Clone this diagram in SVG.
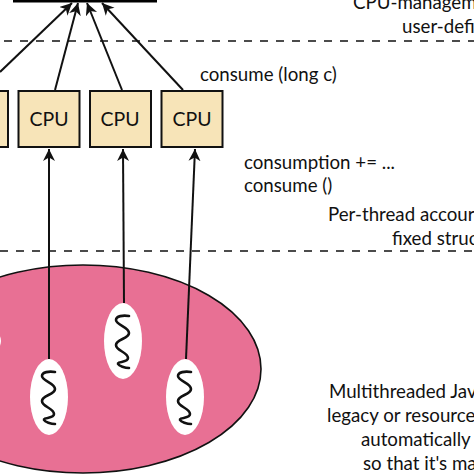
<svg xmlns="http://www.w3.org/2000/svg" width="474" height="474" viewBox="0 0 474 474">
<style>
text{font-family:"Lato","Liberation Sans",sans-serif;font-size:18.700px;fill:#111}
.cpu{fill:#f7e4b8;stroke:#111;stroke-width:2}
.dash{stroke:#111;stroke-width:1.6;stroke-dasharray:8 8;fill:none}
.con{stroke:#111;stroke-width:2;fill:none;marker-end:url(#a)}
.th{fill:#fff}
.sq{fill:none;stroke:#111;stroke-width:2.6;stroke-linecap:round}
.cl{font-size:19.500px}
</style>
<defs>
<marker id="a" markerUnits="userSpaceOnUse" markerWidth="14" markerHeight="14" refX="12" refY="6" orient="auto"><path d="M0 0L12 6L0 12L3.500 6Z" fill="#111"/></marker>
<path id="w" class="sq" d="M6 -25C0 -26 -7 -25 -7 -21C-7 -16 6 -14 6 -8C6 -2 -7 -2 -7 4C-7 10 5 11 5 17C5 22 -6 20 -5 23C-4 25 2 27 6 27"/>
</defs>
<rect width="474" height="474" fill="#fff"/>
<g id="bar"><rect x="13" y="0" width="144" height="2.500" fill="#000"/></g>
<line class="dash" x1="4" y1="41" x2="474" y2="41"/>
<line class="dash" x1="0" y1="251" x2="474" y2="251"/>
<g id="process"><ellipse cx="83" cy="369" rx="178" ry="104" fill="#e87094" stroke="#111" stroke-width="1.600"/></g>
<g id="thread-0"><ellipse class="th" cx="-8" cy="341" rx="9" ry="10"/></g>
<g id="thread-1"><ellipse class="th" cx="49" cy="397" rx="19" ry="38"/><use href="#w" x="49" y="397"/></g>
<g id="thread-2"><ellipse class="th" cx="123" cy="341" rx="19" ry="38"/><use href="#w" x="123" y="341"/></g>
<g id="thread-3"><ellipse class="th" cx="185" cy="397" rx="19" ry="38"/><use href="#w" x="185" y="397"/></g>
<g id="connectors">
<line class="con" x1="0" y1="72" x2="72" y2="3"/>
<line class="con" x1="55" y1="90" x2="78" y2="3"/>
<line class="con" x1="122" y1="90" x2="87" y2="3"/>
<line class="con" x1="183" y1="90" x2="102" y2="3"/>
<line class="con" x1="49" y1="359" x2="49" y2="149"/>
<line class="con" x1="124" y1="303" x2="123" y2="149"/>
<line class="con" x1="186" y1="359" x2="195" y2="149"/>
</g>
<g id="cpu-0"><rect class="cpu" x="-40" y="91" width="48" height="56"/></g>
<g id="cpu-1"><rect class="cpu" x="18.500" y="91" width="61" height="56"/><text class="cl" x="49" y="126" text-anchor="middle">CPU</text></g>
<g id="cpu-2"><rect class="cpu" x="90" y="91" width="61" height="56"/><text class="cl" x="120" y="126" text-anchor="middle">CPU</text></g>
<g id="cpu-3"><rect class="cpu" x="161.500" y="91" width="61" height="56"/><text class="cl" x="192" y="126" text-anchor="middle">CPU</text></g>
<g id="labels">
<text x="353" y="9">CPU-managem</text>
<text x="402" y="33">user-defi</text>
<text x="200" y="81">consume (long c)</text>
<text x="244" y="169">consumption += ...</text>
<text x="244" y="192">consume ()</text>
<text x="328" y="221">Per-thread accour</text>
<text x="392" y="245">fixed struc</text>
<text x="329" y="398">Multithreaded Java</text>
<text x="327" y="422">legacy or resource</text>
<text x="361" y="446">automatically</text>
<text x="363" y="470">so that it's ma</text>
</g>
</svg>
